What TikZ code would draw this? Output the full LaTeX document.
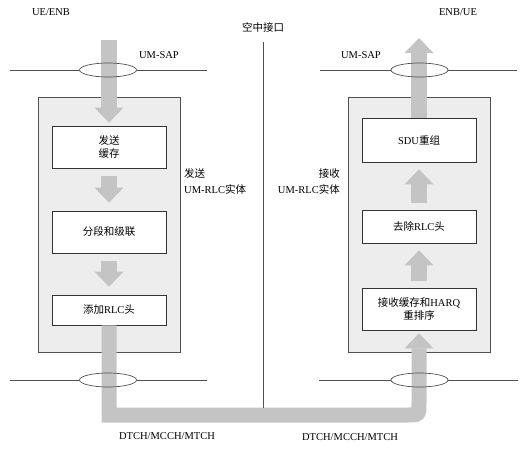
\documentclass[tikz,border=0pt]{standalone}
\usepackage{fontspec}
\setmainfont{Liberation Serif}
\newfontfamily\cjk{Noto Sans CJK SC}
\usetikzlibrary{arrows.meta,shapes.geometric}
\definecolor{flowgray}{RGB}{196,196,196}
\definecolor{entfill}{RGB}{237,237,237}
\definecolor{edgegray}{RGB}{80,80,80}

\begin{document}
\begin{tikzpicture}[x=1pt,y=-1pt,every node/.style={font=\fontsize{10.5}{13}\selectfont,align=center,inner sep=0pt},
  entity/.style={draw=edgegray,fill=entfill,line width=0.7pt,minimum width=142pt,minimum height=255pt},
  stage/.style={draw=black!80,fill=white,line width=0.7pt,minimum width=114pt},
  sap/.style={draw=edgegray,ellipse,line width=0.7pt,minimum width=57pt,minimum height=14pt},
  flow/.style={draw=flowgray,line width=16pt,-{Triangle[width=29pt,length=15pt,line width=0pt]}},
  wire/.style={draw=edgegray,line width=0.7pt}]
\useasboundingbox (0,0) rectangle (532,450);
% entities
\node[entity] (txent) at (109,224.5) {};
\node[entity] (rxent) at (419,224.5) {};
\node[stage,minimum height=42pt] (txbuf) at (109,147) {{\cjk 发送}\\{\cjk 缓存}};
\node[stage,minimum height=42pt] (txseg) at (109,232) {\cjk 分段和级联};
\node[stage,minimum height=30pt] (txhdr) at (109,310) {{\cjk 添加}RLC{\cjk 头}};
\node[stage,minimum height=44pt] (rxsdu) at (419,140) {SDU{\cjk 重组}};
\node[stage,minimum height=33pt] (rxstrip) at (419,226.5) {{\cjk 去除}RLC{\cjk 头}};
\node[stage,minimum height=42pt] (rxrec) at (419,309) {{\cjk 接收缓存和}HARQ\\{\cjk 重排序}};
% flows
\coordinate (tin) at (109,40);
\coordinate (rout) at (419,38);
\coordinate (bendl) at (109,415);
\coordinate (bendx) at (407,415);
\coordinate (bendr) at (419,415);
\coordinate (bendy) at (419,403);
\draw[flow,shorten >=3pt] (tin) -- (txbuf.north);
\draw[flow,shorten <=8pt,shorten >=8pt] (txbuf.south) -- (txseg.north);
\draw[flow,shorten <=8pt,shorten >=8pt] (txseg.south) -- (txhdr.north);
\draw[flow,line width=15pt,shorten >=3pt] (txhdr.south) -- (bendl) -- (bendx) .. controls (bendr) .. (bendy) -- (rxrec.south);
\draw[flow,shorten <=7pt,shorten >=7pt] (rxrec.north) -- (rxstrip.south);
\draw[flow,shorten <=7pt,shorten >=7pt] (rxstrip.north) -- (rxsdu.south);
\draw[flow] (rxsdu.north) -- (rout);
% service access points
\node[sap] (txsap) at (108,70) {};
\node[sap] (rxsap) at (419.5,70) {};
\node[sap] (txlch) at (108,380) {};
\node[sap] (rxlch) at (419.5,380) {};
\coordinate (tsl) at (10,70);   \coordinate (tsr) at (207,70);
\coordinate (rsl) at (320,70);  \coordinate (rsr) at (517,70);
\coordinate (tll) at (10,380);  \coordinate (tlr) at (207,380);
\coordinate (rll) at (319,380); \coordinate (rlr) at (518,380);
\draw[wire] (tsl) -- (txsap.west) (txsap.east) -- (tsr);
\draw[wire] (rsl) -- (rxsap.west) (rxsap.east) -- (rsr);
\draw[wire] (tll) -- (txlch.west) (txlch.east) -- (tlr);
\draw[wire] (rll) -- (rxlch.west) (rxlch.east) -- (rlr);
% air interface
\node (air) at (263,27) {\cjk 空中接口};
\coordinate (airtop) at (263,42);
\coordinate (airbot) at (263,408);
\draw[wire] (airtop) -- (airbot);
% labels
\node (uenb) at (51,12) {UE/ENB};
\node (enbue) at (458,12) {ENB/UE};
\node (txsaplbl) at (159,55) {UM-SAP};
\node (rxsaplbl) at (361,55) {UM-SAP};
\node[anchor=west,align=left,font=\fontsize{10.5}{16}\selectfont] (txlbl) at (184,181) {{\cjk 发送}\\UM-RLC{\cjk 实体}};
\node[anchor=east,align=right,font=\fontsize{10.5}{16}\selectfont] (rxlbl) at (340,181) {{\cjk 接收}\\UM-RLC{\cjk 实体}};
\node (txch) at (167,436) {DTCH/MCCH/MTCH};
\node (rxch) at (350,437) {DTCH/MCCH/MTCH};
\end{tikzpicture}
\end{document}
